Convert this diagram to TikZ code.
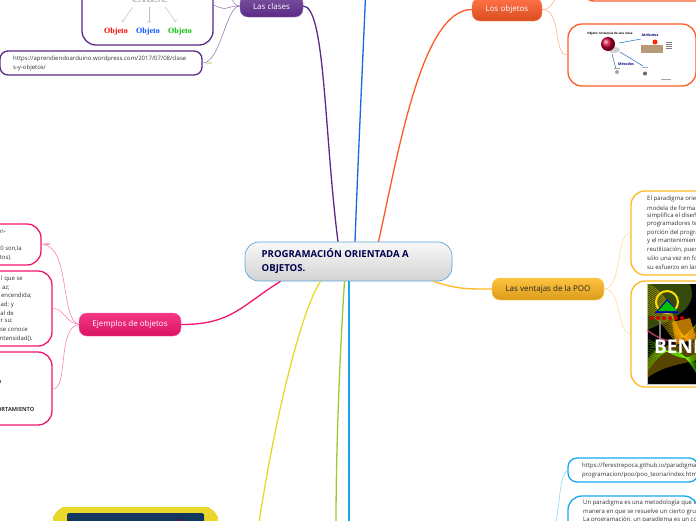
\documentclass[tikz,border=0pt]{standalone}
\usepackage{fontspec}
\setmainfont{Open Sans}
\newfontfamily\objfont{Liberation Serif}
\usetikzlibrary{positioning, shapes.geometric}
\definecolor{clasesc}{HTML}{5B2A86}
\definecolor{objetosc}{HTML}{FF5A26}
\definecolor{ejemplosc}{HTML}{F2146E}
\definecolor{ventajasc}{HTML}{FFB81F}
\definecolor{azulc}{HTML}{1668E0}
\definecolor{cianc}{HTML}{14A8F2}
\definecolor{verdec}{HTML}{9CCB2C}
\definecolor{amarilloc}{HTML}{E9D82A}
\definecolor{textoc}{HTML}{333333}
\definecolor{rootc}{HTML}{5AA5DC}
\definecolor{navyc}{HTML}{14365E}
\tikzset{
	branch/.style={rounded corners=8pt, inner sep=0pt, text=white, font=\fontsize{8}{10}\selectfont},
	leafbox/.style={draw, line width=1.3pt, rounded corners=14pt, inner sep=0pt},
	leaftext/.style={text=textoc, inner sep=0pt, font=\fontsize{6}{7}\selectfont},
	thinline/.style={line width=.5pt},
	trunk/.style={line width=1.3pt}
}
\begin{document}
\begin{tikzpicture}[x=1pt, y=-1pt]
	\useasboundingbox (0,0) rectangle (696,520);
	\clip (0,0) rectangle (696,520);
	% centre
	\node [draw=rootc, line width=.7pt, rounded corners=14pt, top color=gray!5, bottom color=gray!35, minimum width=207pt, minimum height=39pt, inner sep=0pt] (root) at (348.5,261.5) {};
	\node [anchor=west, inner sep=0pt, align=left, text=blue!30!black, font=\fontsize{9.6}{14}\selectfont\bfseries] (roottext) at (261.5,261) {PROGRAMACIÓN ORIENTADA A\\OBJETOS.};
	% branches
	\node [branch, top color=clasesc!80, bottom color=clasesc, draw=clasesc!70, minimum width=63pt, minimum height=22pt] (clases) at (271.5,6) {Las clases};
	\node [branch, top color=objetosc!85!white, bottom color=objetosc!85!black, draw=objetosc!70, minimum width=70pt, minimum height=23pt] (objetos) at (507,9.5) {Los objetos};
	\node [branch, top color=ejemplosc!85!white, bottom color=ejemplosc!90!black, draw=ejemplosc!70, minimum width=102pt, minimum height=23pt] (ejemplos) at (130,324.5) {Ejemplos de objetos};
	\node [branch, text=black!85, top color=ventajasc!85!white, bottom color=ventajasc!85!black, draw=ventajasc!80, minimum width=112pt, minimum height=22pt] (ventajas) at (548,289) {Las ventajas de la POO};
	% leaves
	\node [leafbox, draw=clasesc, minimum width=131pt, minimum height=70pt] (claseimg) at (147.5,10) {};
	\node [leafbox, draw=clasesc, rounded corners=8pt, minimum width=202pt, minimum height=24pt] (claseurl) at (101,63) {};
	\node [leafbox, draw=objetosc, minimum width=131pt, minimum height=40pt] (objetotop) at (646,-19) {};
	\node [leafbox, draw=objetosc, minimum width=128pt, minimum height=62pt] (objetoimg) at (632,55) {};
	\node [leafbox, draw=ejemplosc, minimum width=71pt, minimum height=41pt] (ejem1) at (5.5,244.5) {};
	\node [leafbox, draw=ejemplosc, minimum width=82pt, minimum height=75pt] (ejem2) at (11,308.5) {};
	\node [leafbox, draw=ejemplosc, minimum width=82pt, minimum height=73pt] (ejem3) at (11,388.5) {};
	\node [leafbox, draw=ventajasc, minimum width=130pt, minimum height=84pt] (vent1) at (696,233) {};
	\node [leafbox, draw=ventajasc, minimum width=130pt, minimum height=106pt] (vent2) at (696,334) {};
	\node [leafbox, draw=cianc, rounded corners=9pt, minimum width=130pt, minimum height=24pt] (paraurl) at (633,470) {};
	\node [leafbox, draw=cianc, minimum width=130pt, minimum height=60pt] (paratxt) at (633,526) {};
	\node [draw=amarilloc, fill=amarilloc, line width=0pt, rounded corners=14pt, minimum width=165pt, minimum height=70pt, inner sep=0pt] (yellowbox) at (135.5,542) {};
	\node [fill=navyc, rounded corners=1.5pt, minimum width=137pt, minimum height=50pt, inner sep=0pt] (yellowimg) at (135.5,538) {};
	\node [circle, fill=red!50!black, inner sep=0pt, minimum size=3pt] (yellowdot) at (180,520) {};
	% free ends of the trunks and twigs
	\coordinate (azultop) at (365.5,-3);
	\coordinate (verdeend) at (336,523);
	\coordinate (cianend) at (349,523);
	\coordinate (amarilloend) at (259,523);
	\coordinate (twigcyan) at (556,523);
	\coordinate (twigclase) at (230,-2);
	\coordinate (twigobjeto) at (556,-2);
	% trunks
	\draw [trunk, clasesc] (clases.east) .. controls +(22,0) and +(-14,-110) .. ([xshift=-10.5pt]root.north);
	\draw [trunk, azulc] (azultop) .. controls +(-4,90) and +(3,-80) .. ([xshift=6.5pt]root.north);
	\draw [trunk, objetosc] (objetos.west) .. controls +(-50,0) and +(20,-90) .. ([xshift=30pt]root.north);
	\draw [trunk, ejemplosc] (ejemplos.east) .. controls +(50,0) and +(-40,25) .. ([xshift=-68pt]root.south);
	\draw [trunk, ventajasc] (ventajas.west) .. controls +(-25,0) and +(25,8) .. ([xshift=85pt]root.south);
	\draw [trunk, verdec] ([xshift=-4pt]root.south) .. controls +(-2,30) and +(0,-100) .. (verdeend);
	\draw [trunk, cianc] ([xshift=.5pt]root.south) -- (cianend);
	\draw [trunk, amarilloc] ([xshift=-28pt]root.south) .. controls +(-20,30) and +(15,-100) .. (amarilloend);
	% twigs
	\draw [thinline, clasesc!70] (clases.west) .. controls +(-15,0) and +(15,7) .. ([yshift=5pt]claseimg.east);
	\draw [thinline, clasesc!70] (clases.west) .. controls +(-8,-1) and +(5,2) .. (twigclase);
	\draw [thinline, clasesc!70] (clases.west) .. controls +(-14,0) and +(18,0) .. (claseurl.east);
	\draw [thinline, objetosc!55] (objetos.east) .. controls +(8,0) and +(-3,5) .. (twigobjeto);
	\draw [thinline, objetosc!55] (objetos.east) .. controls +(20,0) and +(-15,0) .. (objetoimg.west);
	\draw [thinline, ejemplosc!60] (ejemplos.west) .. controls +(-19,-5) and +(29,0) .. (ejem1.east);
	\draw [thinline, ejemplosc!60] (ejemplos.west) .. controls +(-14,-2) and +(12,0) .. (ejem2.east);
	\draw [thinline, ejemplosc!60] (ejemplos.west) .. controls +(-22,3) and +(16,2) .. (ejem3.east);
	\draw [thinline, ventajasc!55] (ventajas.east) .. controls +(18,0) and +(-14,-2) .. (vent1.west);
	\draw [thinline, ventajasc!55] (ventajas.east) .. controls +(18,0) and +(-14,-2) .. (vent2.west);
	\draw [thinline, cianc!55] (twigcyan) .. controls +(5,-30) and +(-8,8) .. (paraurl.west);
	% collapse marks
	\node [fill=ejemplosc!40, ellipse, inner sep=0pt, minimum width=7pt, minimum height=2pt] (mark1) at (47,244) {};
	\node [fill=verdec!40, inner sep=0pt, minimum width=6pt, minimum height=2pt] (mark2) at (208.5,63) {};
	% texts of the left leaves
	\foreach \n/\x/\y/\txt in {a/6/232/{n-},b/22/249/{0 son,la},c/12/258/{tos).},d/23/279/{l que se},e/10/288/{az;},f/32/296/{encendida;},g/14/305/{ad; y},h/14/313/{al de},i/13/321/{ar su:},j/28/330/{se conoce},k/33/339/{ntensidad().}}
		\node [leaftext, anchor=east] (ej\n) at (\x,\y) {\txt};
	\node [leaftext, anchor=east, font=\fontsize{5.6}{7}\selectfont\bfseries] (ejo) at (1.5,382) {o};
	\node [leaftext, anchor=east, font=\fontsize{5.6}{7}\selectfont\bfseries] (ejcomp) at (34.5,409) {ORTAMIENTO};
	% texts of the right leaves
	\foreach \n/\y/\txt in {a/199/{El paradigma orie},b/208/{modela de forma},c/216/{simplifica el diseñ},d/224/{programadores te},e/233/{porción del progra},f/241/{y el mantenimient},g/250/{reutilización, pues},h/258/{sólo una vez en fo},i/267/{su esfuerzo en las}}
		\node [leaftext, anchor=west] (ve\n) at (647,\y) {\txt};
	\node [leaftext, anchor=west] (claseurltext1) at (13,59) {https://aprendiendoarduino.wordpress.com/2017/07/08/clase};
	\node [leaftext, anchor=west] (claseurltext2) at (13,68) {s-y-objetos/};
	\node [leaftext, anchor=west] (paraurl1) at (582,466) {https://ferestrepoca.github.io/paradigma};
	\node [leaftext, anchor=west] (paraurl2) at (582,475) {programacion/poo/poo\_teoria/index.htm};
	\node [leaftext, anchor=west] (paratxt1) at (583,503) {Un paradigma es una metodología que i};
	\node [leaftext, anchor=west] (paratxt2) at (583,512) {manera en que se resuelve un cierto gru};
	\node [leaftext, anchor=west] (paratxt3) at (583,520) {La programación, un paradigma es un co};
	% picture of the class
	\node [inner sep=0pt, text=gray!50, font=\fontsize{16}{16}\selectfont\bfseries\objfont] (clasepic) at (149,-3) {Clase};
	\foreach \n/\x/\col in {r/116/red!95!black,b/148/blue!70!cyan,g/180/green!75!black}{
		\node [inner sep=0pt, text=\col, font=\fontsize{8}{8}\selectfont\bfseries\objfont] (obj\n) at (\x,32) {Objeto};
	}
	\draw [->, gray!50, thinline] (133,7) -- (122,22);
	\draw [->, gray!50, thinline] (149,7) -- (149,23);
	\draw [->, gray!50, thinline] (165,7) -- (176,22);
	% picture of the object
	\fill [gray!35] (614,50) ellipse (6 and 3);
	\shade [ball color=purple!80!red] (608,44) circle (7);
	\draw [cyan!50!blue, thinline] (619,43) -- (641,39);
	\draw [cyan!50!blue, thinline] (620,52) -- (643,66);
	\draw [cyan!50!blue, thinline] (612,54) -- (616,69);
	\node [inner sep=0pt, font=\fontsize{3}{3}\selectfont\bfseries] (objtitle) at (610,34) {Objeto: Instancia de una clase};
	\node [inner sep=0pt, text=blue!50!black, font=\fontsize{3.6}{4}\selectfont\bfseries] (objatr) at (650,35.5) {Atributos};
	\node [inner sep=0pt, text=blue!50!black, font=\fontsize{3.6}{4}\selectfont\bfseries] (objmet) at (626,64) {Métodos};
	\fill [brown!60!gray!80!white] (641,45) rectangle (663,53);
	\fill [red!70!orange] (655,42) circle (2.5);
	\foreach \y in {42,44,46,48}
		\draw [gray, line width=.3pt] (666,\y) -- (672,\y);
	\fill [gray!70] (617,72) circle (2);
	\fill [black!60] (645,73.5) circle (2);
	\draw [gray!70, line width=.3pt] (614,68) -- (620,68);
	\draw [gray!70, line width=.3pt] (642,67) -- (648,67);
	\draw [gray!70, line width=.3pt] (661,79) -- (671,79);
	% picture with the banner
	\fill [black] (647,284) rectangle (700,384);
	\draw [draw=gray!50, line width=.5pt] (647,284) -- (647,384) -- (700,384);
	\fill [yellow!60!green, opacity=.35] (647,284) -- (690,284) .. controls (700,310) and (670,320) .. (647,330) -- cycle;
	\fill [yellow!60!orange, opacity=.35] (647,360) .. controls (665,335) and (680,350) .. (696,345) -- (696,360) .. controls (680,365) and (665,365) .. (647,378) -- cycle;
	\foreach \i in {0,2,...,30}{
		\draw [yellow!70!orange, line width=.4pt, opacity=.7] (648,284+\i) .. controls (680,300+\i) and (665,330+\i) .. (700,350-\i);
		\draw [green!60!yellow, line width=.4pt, opacity=.6] (648,340+\i) .. controls (665,345) and (680,370-\i) .. (700,350+\i);
	}
	\draw [magenta!70!yellow, line width=1.5pt, opacity=.7] (647,330) .. controls (660,340) and (680,350) .. (700,330);
	\fill [orange!70!yellow, opacity=.7] (672,322) -- (690,318) -- (696,338) -- (676,345) -- cycle;
	\draw [gray, line width=1.5pt] (660,320) -- (660,345);
	\draw [yellow!80!orange, line width=2pt] (667,302) circle (11);
	\fill [blue!70!black] (655,313) -- (667,299) -- (679,313) -- cycle;
	\fill [green!75!black] (658,311) -- (667,301) -- (677,311) -- cycle;
	\foreach \x in {652,658,664,670,676,682}
		\fill [red!80!black] (\x,318) circle (2);
	\node [anchor=west, inner sep=0pt, text=white, font=\fontsize{19}{19}\selectfont\bfseries] (bene) at (654,347) {BENE};
\end{tikzpicture}
\end{document}
